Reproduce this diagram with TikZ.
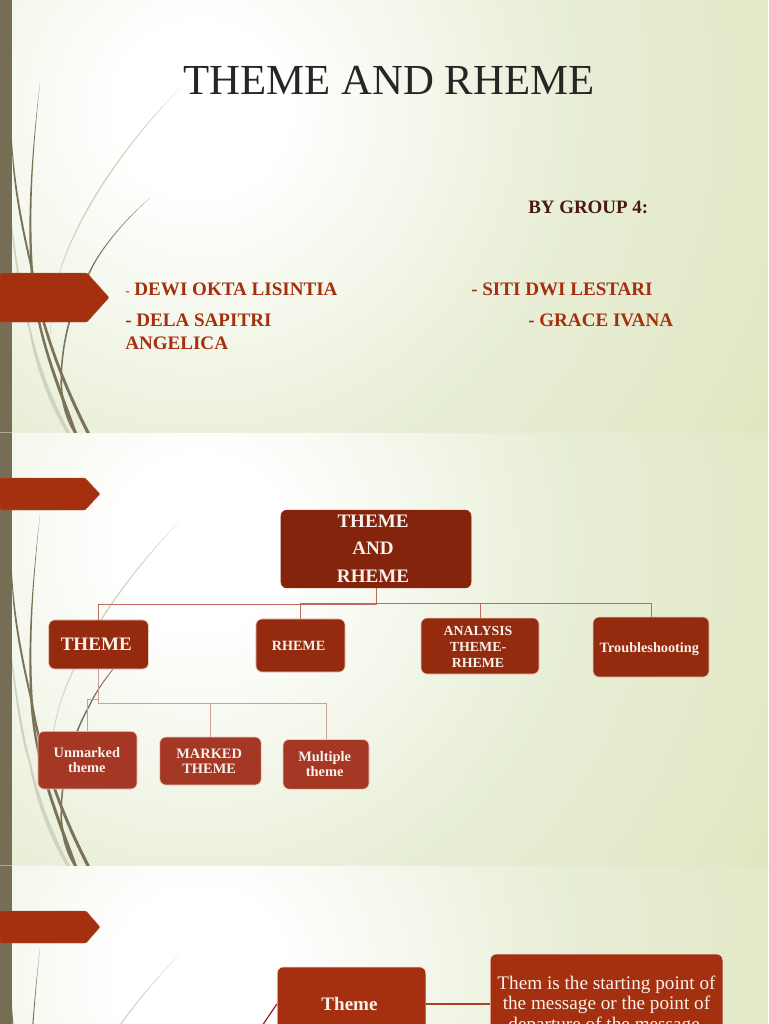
\documentclass[tikz,border=0pt]{standalone}
\usepackage{fontspec}
\setmainfont{Liberation Serif}
\definecolor{bgc}{HTML}{DFE7C2}
\definecolor{bgm}{HTML}{E9EFD8}
\definecolor{barc}{HTML}{766E54}
\definecolor{rust}{HTML}{A5300F}
\definecolor{rootc}{HTML}{85240C}
\definecolor{lvlb}{HTML}{942A0E}
\definecolor{lvlc}{HTML}{A53825}
\definecolor{stalk}{HTML}{7A7358}
\definecolor{stalkl}{HTML}{D0D4BE}
\definecolor{linea}{HTML}{BF6A60}
\definecolor{lineb}{HTML}{CF9E96}
\definecolor{titlec}{HTML}{262626}
\definecolor{byc}{HTML}{4A1A0C}
\definecolor{txtc}{HTML}{F8F1EC}
\pgfdeclareradialshading{slidebg}{\pgfpoint{0bp}{0bp}}{color(0bp)=(white); color(2.6bp)=(white); color(11.2bp)=(bgm); color(20bp)=(bgc); color(50bp)=(bgc)}
\newcommand{\fs}[1]{\fontsize{#1}{#1}\selectfont}
% lines of a box: first argument shifts left, second is a strut that moves the text down
\newcommand{\tb}[3]{\begin{tabular}{@{}c@{}}\rule{0pt}{#2pt}#3\end{tabular}\hspace*{#1pt}}
\newcommand{\slideback}[1]{%
  \begin{scope}[yshift=#1*-0.75pt]
    \begin{scope}
      \clip (0,0) rectangle (768,433);
      \shade[shading=slidebg] (-600,-690) rectangle (1000,910);
      \fill[stalkl] (180,88) .. controls (130,140) and (80,210) .. (60,272) .. controls (54,292) and (51,315) .. (50,345) .. controls (50,315) and (53,292) .. (59.3,272) .. controls (78,210) and (128,140) .. cycle;
      \fill[stalkl] (12,225) .. controls (18,270) and (25,310) .. (31,330) .. controls (40,370) and (55,405) .. (70,433) -- (66.5,433) .. controls (50,405) and (36,370) .. (29,330) .. controls (22,310) and (16,270) .. (12,235) -- cycle;
      \fill[stalk] (40,82) .. controls (33,150) and (29,210) .. (33,270) .. controls (36,330) and (58,380) .. (77,433) -- (74,433) .. controls (56,385) and (34,330) .. (30.5,270) .. controls (27,210) and (32,150) .. cycle;
      \fill[stalk] (12,140) .. controls (15,190) and (25,235) .. (33,270) .. controls (42,325) and (65,385) .. (90,433) -- (86.5,433) .. controls (62,385) and (39,325) .. (31,270) .. controls (23,235) and (13,190) .. (12,150) -- cycle;
      \fill[stalk] (150,198) .. controls (125,220) and (100,250) .. (90,273) .. controls (72,305) and (62,345) .. (62,380) .. controls (62,400) and (68,418) .. (77,433) -- (74,433) .. controls (65,418) and (60,400) .. (60.5,380) .. controls (60.5,345) and (70,305) .. (89,272) .. controls (99,250) and (124,220) .. cycle;
      \fill[barc] (0,0) rectangle (12,433);
      \draw[barc!60!white,line width=.5pt] (0,432.5) -- (12,432.5);
    \end{scope}
  \end{scope}}
\tikzset{
  rustarrow/.style={fill=rust,draw=rust!85!white,line width=.3pt,rounded corners=.8pt},
  boxbase/.style={rectangle,rounded corners=4.5pt,align=center,inner sep=0pt,text=txtc,font=\bfseries,draw=white!75!rust,line width=.5pt},
  rootbox/.style={boxbase,fill=rootc,draw=rootc},
  lvlbox/.style={boxbase,fill=lvlb},
  subbox/.style={boxbase,fill=lvlc},
  slidebox/.style={boxbase,fill=rust,draw=white!85!rust},
  namelbl/.style={anchor=base west,inner sep=0pt,text=rust,font=\bfseries\fs{14.3}},
  conn/.style={linea,line width=.75pt},
  subconn/.style={lineb,line width=.75pt},
}
\begin{document}
\begin{tikzpicture}[x=0.75pt,y=-0.75pt]
\useasboundingbox (0,0) rectangle (768,1024);
\clip (0,0) rectangle (768,1024);
\slideback{0}
\slideback{433}
\begin{scope}[yshift=866*-0.75pt]
  \clip (0,0) rectangle (768,158);
  \shade[shading=slidebg] (-600,-690) rectangle (1000,910);
  \fill[stalkl] (180,88) .. controls (130,140) and (80,210) .. (60,272) -- (59.3,272) .. controls (78,210) and (128,140) .. cycle;
  \fill[stalk] (40,82) .. controls (33,150) and (29,210) .. (33,270) -- (30.5,270) .. controls (27,210) and (32,150) .. cycle;
  \fill[stalk] (12,140) .. controls (15,190) and (25,235) .. (33,270) -- (31,270) .. controls (23,235) and (13,190) .. (12,150) -- cycle;
  \fill[barc] (0,0) rectangle (12,158);
\end{scope}
% section arrows
\fill[rustarrow] (0,273) -- (87,273) -- (109,297.5) -- (87,322) -- (0,322) -- cycle;
\fill[rustarrow] (0,478) -- (85,478) -- (100,494) -- (85,510) -- (0,510) -- cycle;
\fill[rustarrow] (0,911) -- (86,911) -- (100,927) -- (86,943) -- (0,943) -- cycle;
% slide 1 text
\node[anchor=base,inner sep=0pt,text=titlec,font=\fs{32.1}] (title) at (389,94.5) {THEME AND RHEME};
\node[anchor=base west,inner sep=0pt,text=byc,font=\bfseries\fs{14.2}] (bygroup) at (528,213) {BY GROUP 4:};
\node[namelbl] (dewi) at (125,295) {{\mdseries\fs{10}-} DEWI OKTA LISINTIA};
\node[namelbl] (siti) at (471,295) {- SITI DWI LESTARI};
\node[namelbl] (dela) at (125,326) {- DELA SAPITRI};
\node[namelbl] (angelica) at (125,349) {ANGELICA};
\node[namelbl] (grace) at (528,326) {- GRACE IVANA};
% slide 2 boxes
\node[rootbox,minimum width=142.5pt,minimum height=56.5pt,font=\bfseries\fs{14.3}] (root) at (376,549)
  {\tb{4.5}{13}{THEME\\[6.2pt]AND\\[6.2pt]RHEME}};
\node[lvlbox,minimum width=74.8pt,minimum height=36.8pt,font=\bfseries\fs{14.3}] (theme) at (98.6,644.5) {THEME\hspace*{3.5pt}};
\node[lvlbox,minimum width=66.8pt,minimum height=39.8pt,font=\bfseries\fs{10.6}] (rheme) at (300.5,645.5) {RHEME\hspace*{3pt}};
\node[lvlbox,minimum width=88.5pt,minimum height=42pt,font=\bfseries\fs{10.4}] (analysis) at (480,646)
  {\tb{3}{11}{ANALYSIS\\[1.6pt]THEME-\\[1.6pt]RHEME}};
\node[lvlbox,minimum width=87pt,minimum height=45pt,font=\bfseries\fs{10.7}] (trouble) at (651,647) {\rule{0pt}{10pt}Troubleshooting\hspace*{2.5pt}};
\node[subbox,minimum width=74.3pt,minimum height=43.2pt,font=\bfseries\fs{10.8}] (unmarked) at (87.5,760.2)
  {\tb{1}{10.5}{Unmarked\\[.5pt]theme}};
\node[subbox,minimum width=76pt,minimum height=36pt,font=\bfseries\fs{10.8}] (marked) at (210.5,761)
  {\tb{2}{10.5}{MARKED\\[.5pt]THEME}};
\node[subbox,minimum width=64.5pt,minimum height=37.2pt,font=\bfseries\fs{10.8}] (multiple) at (326,764.3)
  {\tb{2}{10.5}{Multiple\\[.5pt]theme}};
% slide 2 connectors
\draw[conn] (root.south) -- ++(0,16) -| (theme.north);
\draw[conn] (root.south) -- ++(0,15.5) -| (rheme.north);
\draw[conn] (root.south) -- ++(0,15.5) -| (analysis.north);
\draw[conn] (root.south) -- ++(0,15.5) -| (trouble.north);
\draw[subconn] (theme.south) -- ++(0,30) -| (unmarked.north);
\draw[subconn] (theme.south) -- ++(0,34) -| (marked.north);
\draw[subconn] (theme.south) -- ++(0,34) -| (multiple.north);
% slide 3
\node[slidebox,minimum width=111.5pt,minimum height=55.5pt,font=\bfseries\fs{14.3}] (themeb) at (351.5,1004) {Theme\hspace*{3pt}};
\node[slidebox,minimum width=174.5pt,minimum height=76.5pt,font=\mdseries\fontsize{14.4}{15.4}\selectfont] (defn) at (606.5,1005)
  {Them is the starting point of\\the message or the point of\\departure of the message.};
\coordinate (lowend) at (262,1026);
\draw[rust!70!linea,line width=1pt] (themeb.east) -- (defn.west |- themeb.east);
\draw[rust!85!black,line width=.9pt] (themeb.west) -- (lowend);
\end{tikzpicture}
\end{document}
